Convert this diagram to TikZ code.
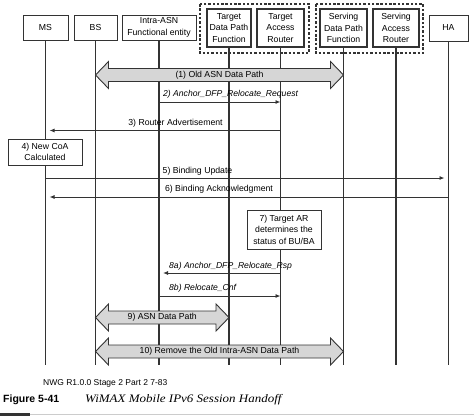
\documentclass[tikz,border=0pt]{standalone}
\usepackage{fontspec}
\setmainfont{Liberation Sans}
\newfontfamily\capfont[FakeStretch=1.13]{Liberation Serif}
\usetikzlibrary{arrows.meta,calc}
\definecolor{ln}{HTML}{333333}
\definecolor{af}{HTML}{D6D6D6}
\newcommand\dblarrow[3]{%
  \filldraw[bigarrow] let \p1=(#1), \p2=(#2) in
    (\x1,\y1) -- (\x1+13pt,\y1+13.5pt) -- (\x1+13pt,\y1+6.5pt) -- (\x2-13pt,\y2+6.5pt)
    -- (\x2-13pt,\y2+13.5pt) -- (\x2,\y2) -- (\x2-13pt,\y2-13.5pt) -- (\x2-13pt,\y2-6.5pt)
    -- (\x1+13pt,\y1-6.5pt) -- (\x1+13pt,\y1-13.5pt) -- cycle;
  \node[lbl] at ($(#1)!0.5!(#2)$) {#3};}
\begin{document}
\begin{tikzpicture}[x=1pt,y=-1pt,
  hbox/.style={draw=ln,line width=0.9pt,fill=white,align=center,inner sep=0pt,
    font=\fontsize{8.7}{11.5}\selectfont},
  ibox/.style={hbox,line width=1.4pt},
  grp/.style={draw=ln,line width=1.5pt,dash pattern=on 2.5pt off 1.8pt},
  life/.style={draw=ln,line width=1.1pt},
  bigarrow/.style={draw=ln,fill=af,line width=0.9pt,line join=miter},
  lbl/.style={inner sep=0pt,font=\fontsize{8.7}{10}\selectfont},
  ilbl/.style={lbl,font=\fontsize{8.6}{10}\itshape},
  msg/.style={draw=ln,line width=0.9pt,-{Latex[length=5pt,width=4pt]}},
  msgs/.style={msg,shorten >=4pt},
]
\useasboundingbox (0,0) rectangle (474,416);
% groups
\draw[grp] (200,4) rectangle (309,53);
\draw[grp] (316,4) rectangle (423,53);
% header boxes
\node[hbox,minimum width=45,minimum height=25] (MS) at (45.5,27.5) {MS};
\node[hbox,minimum width=43,minimum height=25] (BS) at (95.5,27.5) {BS};
\node[hbox,minimum width=74,minimum height=25] (IA) at (159,27.5) {Intra-ASN\\Functional entity};
\node[ibox,minimum width=44,minimum height=38] (TDPF) at (229,28) {Target\\Data Path\\Function};
\node[ibox,minimum width=47,minimum height=38] (TAR) at (280.5,28) {Target\\Access\\Router};
\node[ibox,minimum width=47,minimum height=38] (SDPF) at (343.5,28) {Serving\\Data Path\\Function};
\node[ibox,minimum width=46,minimum height=38] (SAR) at (396,28) {Serving\\Access\\Router};
\node[hbox,minimum width=39,minimum height=26] (HA) at (448.5,28) {HA};
% lifelines
\foreach \n in {MS,BS,IA,HA}{\draw[life] (\n.south) -- (\n.south |- 0,365);}
\foreach \n in {TDPF,TAR,SDPF,SAR}{\draw[life] (\n.south) -- (\n.south |- 0,365);}
% 1
\dblarrow{BS.south |- 0,75}{SDPF.south |- 0,75}{(1) Old ASN Data Path}
% 2
\draw[msg] (IA.south |- 0,102) -- (TAR.south |- 0,102);
\node[ilbl,anchor=west] (l2) at (163,94.5) {2) Anchor\_DFP\_Relocate\_Request};
% 3
\draw[msgs] (TAR.south |- 0,130.5) -- (MS.south |- 0,130.5);
\node[lbl] (l3) at (175.5,123) {3) Router Advertisement};
% 4
\node[hbox,minimum width=74,minimum height=26] (B4) at (45,152) {4) New CoA\\Calculated};
% 5
\draw[msgs] (MS.south |- 0,178) -- (HA.south |- 0,178);
\node[lbl] (l5) at (197.5,171) {5) Binding Update};
% 6
\draw[msgs] (HA.south |- 0,197) -- (MS.south |- 0,197);
\node[lbl] (l6) at (219,189.5) {6) Binding Acknowledgment};
% 7
\node[hbox,minimum width=74,minimum height=39] (B7) at (284,229.5) {7) Target AR\\determines the\\status of BU/BA};
% 8a
\draw[msgs] (TAR.south |- 0,273) -- (IA.south |- 0,273);
\node[ilbl,anchor=west] (l8a) at (169,266) {8a) Anchor\_DFP\_Relocate\_Rsp};
% 8b
\draw[msg] (IA.south |- 0,296) -- (TAR.south |- 0,296);
\node[ilbl,anchor=west] (l8b) at (169,288.5) {8b) Relocate\_Cnf};
% 9, 10
\dblarrow{BS.south |- 0,317.5}{TDPF.south |- 0,317.5}{9) ASN Data Path}
\dblarrow{BS.south |- 0,351.5}{SDPF.south |- 0,351.5}{10) Remove the Old Intra-ASN Data Path}
% footer
\node[inner sep=0pt,anchor=west,font=\fontsize{8.5}{10}\selectfont] (src) at (43,383) {NWG R1.0.0 Stage 2 Part 2 7-83};
\node[inner sep=0pt,anchor=west,font=\fontsize{10.5}{12}\bfseries] (fig) at (3,399.5) {Figure 5-41};
\node[inner sep=0pt,anchor=west,font=\capfont\fontsize{11.5}{13}\itshape] (cap) at (85,399.5) {WiMAX Mobile IPv6 Session Handoff};
\fill[gray!40] (0,413.5) rectangle (474,414.5);
\fill[ln] (0,413) rectangle (30,416);
\end{tikzpicture}
\end{document}
